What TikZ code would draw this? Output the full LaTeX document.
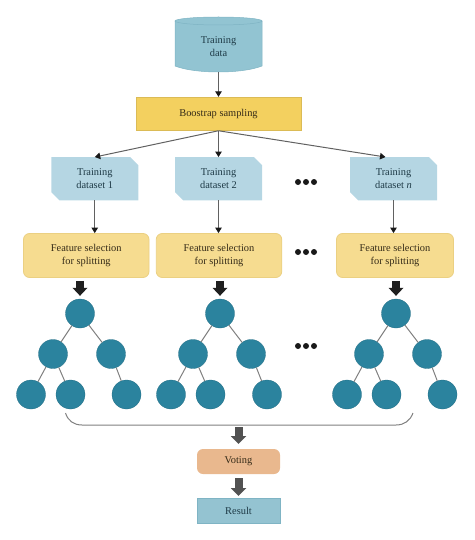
\documentclass[tikz,border=0pt]{standalone}
\usepackage{fontspec}
\setmainfont{Liberation Serif}
\usetikzlibrary{arrows.meta}
\definecolor{cyl}{HTML}{92C4D2}
\definecolor{cylb}{HTML}{7FB4C4}
\definecolor{boot}{HTML}{F3D05F}
\definecolor{dset}{HTML}{B5D6E3}
\definecolor{feat}{HTML}{F6DC90}
\definecolor{featb}{HTML}{EBD082}
\definecolor{vote}{HTML}{E9B88E}
\definecolor{resu}{HTML}{94C3D1}
\definecolor{circ}{HTML}{2B839E}
\definecolor{bluetext}{HTML}{1E3A46}
\definecolor{warmtext}{HTML}{352B18}
\tikzset{
  txt/.style={font=\fontsize{10.4}{12.8}\selectfont,align=center,inner sep=0pt},
  databox/.style={txt,text=bluetext,minimum width=87pt,minimum height=43pt},
  cylbox/.style={txt,text=bluetext,minimum width=87pt,minimum height=51pt},
  bootbox/.style={txt,text=warmtext,fill=boot,draw=boot!90!black,line width=.4pt,minimum width=165pt,minimum height=33.5pt},
  featbox/.style={txt,text=warmtext,fill=feat,draw=featb,line width=.8pt,rounded corners=6pt,minimum height=44pt},
  votebox/.style={txt,text=warmtext,fill=vote,rounded corners=6pt,minimum width=83pt,minimum height=25pt},
  resbox/.style={txt,text=bluetext,fill=resu,draw=cylb,line width=.4pt,minimum width=83pt,minimum height=25pt},
  treenode/.style={circle,fill=circ,draw=circ!85!black,line width=.3pt,minimum size=29pt,inner sep=0pt},
  edge/.style={draw=black!50,line width=1pt},
  thin arrow/.style={draw=black!62,line width=1pt,-{Triangle[width=6.5pt,length=5.5pt,color=black!90]}},
  blackarrow/.style={draw=black!88,line width=8pt,shorten <=3pt,shorten >=3pt,-{Triangle[width=14.5pt,length=8pt]}},
  greyarrow/.style={draw=black!68,line width=8pt,-{Triangle[width=15pt,length=8pt]}},
  dots/.style={circle,fill=black!90,minimum size=6pt,inner sep=0pt},
}
\newcommand{\dsshape}[2]{\fill[dset] (#1-43.5,#2-21.5) -- (#1+35.5,#2-21.5) -- (#1+43.5,#2-13.5) -- (#1+43.5,#2+21.5) -- (#1-35.5,#2+21.5) -- (#1-43.5,#2+13.5) -- cycle;}
\newcommand{\dotrow}[1]{\foreach \xx in {298,306,314}{\node[dots] at (\xx,#1) {};}}
\begin{document}
\begin{tikzpicture}[x=1pt,y=-1pt]
\useasboundingbox (0,0) rectangle (474,540);
% cylinder
\fill[cyl] (175,21) -- (175,66) .. controls (195,74) and (242,74) .. (262,66) -- (262,21) -- cycle;
\fill[cyl] (218.5,21) ellipse[x radius=43.5,y radius=4];
\draw[cylb,line width=.5pt] (218.5,21) ellipse[x radius=43.5,y radius=4];
\draw[cylb,line width=.5pt] (175,21) -- (175,66) .. controls (195,74) and (242,74) .. (262,66) -- (262,21);
\node[cylbox] (data) at (218.5,46.5) {Training\\data};
\node[bootbox] (boot) at (218.5,113.8) {Boostrap sampling};
% datasets
\dsshape{94.75}{178.75}
\dsshape{218.5}{178.75}
\dsshape{393.5}{178.75}
\node[databox] (d1) at (94.75,178.75) {Training\\dataset 1};
\node[databox] (d2) at (218.5,178.75) {Training\\dataset 2};
\node[databox] (dn) at (393.5,178.75) {Training\\dataset \textit{n}};
% feature
\node[featbox,minimum width=125.5pt] (f1) at (86.25,255.5) {Feature selection\\for splitting};
\node[featbox,minimum width=125.5pt] (f2) at (219,255.5) {Feature selection\\for splitting};
\node[featbox,minimum width=117pt] (f3) at (395,255.5) {Feature selection\\for splitting};
% dots
\dotrow{182}
\dotrow{252}
\dotrow{346}
% trees
\foreach \t/\xa/\xb/\xc/\xd/\xe/\xf in {a/80/53/111/31/70.5/126.5,b/220/193/251/171/210.5/267,c/396/369/427/347/386.5/442.5}{
  \node[treenode] (\t r) at (\xa,313.5) {};
  \node[treenode] (\t l) at (\xb,354) {};
  \node[treenode] (\t m) at (\xc,354) {};
  \node[treenode] (\t x) at (\xd,394.5) {};
  \node[treenode] (\t y) at (\xe,394.5) {};
  \node[treenode] (\t z) at (\xf,394.5) {};
  \draw[edge] (\t r) -- (\t l);
  \draw[edge] (\t r) -- (\t m);
  \draw[edge] (\t l) -- (\t x);
  \draw[edge] (\t l) -- (\t y);
  \draw[edge] (\t m) -- (\t z);
}
% connectors
\draw[thin arrow] (data.south) -- (boot.north);
\draw[thin arrow] (boot.south) -- (d1.north);
\draw[thin arrow] (boot.south) -- (d2.north);
\draw[thin arrow] (boot.south) -- ([xshift=-8pt]dn.north);
\draw[thin arrow] (d1.south) -- (f1.north -| d1.south);
\draw[thin arrow] (d2.south) -- (f2.north -| d2.south);
\draw[thin arrow] (dn.south) -- (f3.north -| dn.south);
\draw[blackarrow] (f1.south -| ar) -- (ar);
\draw[blackarrow] (f2.south -| br) -- (br);
\draw[blackarrow] (f3.south -| cr) -- (cr);
% brace
\coordinate (bl) at (65.5,413);
\coordinate (br2) at (413,413);
\coordinate (bc) at (238.5,427);
\draw[black!50,line width=1pt] (bl) .. controls (68,421) and (74,425) .. (82,425) -- (396,425) .. controls (404,425) and (410,421) .. (br2);
% voting
\node[votebox] (vote) at (238.5,461.5) {Voting};
\node[resbox] (res) at (238.5,510.5) {Result};
\coordinate (va) at (238.5,444);
\draw[greyarrow] (bc) -- (va);
\coordinate (vb) at (238.5,478);
\coordinate (rb) at (238.5,496);
\draw[greyarrow] (vb) -- (rb);
\end{tikzpicture}
\end{document}
